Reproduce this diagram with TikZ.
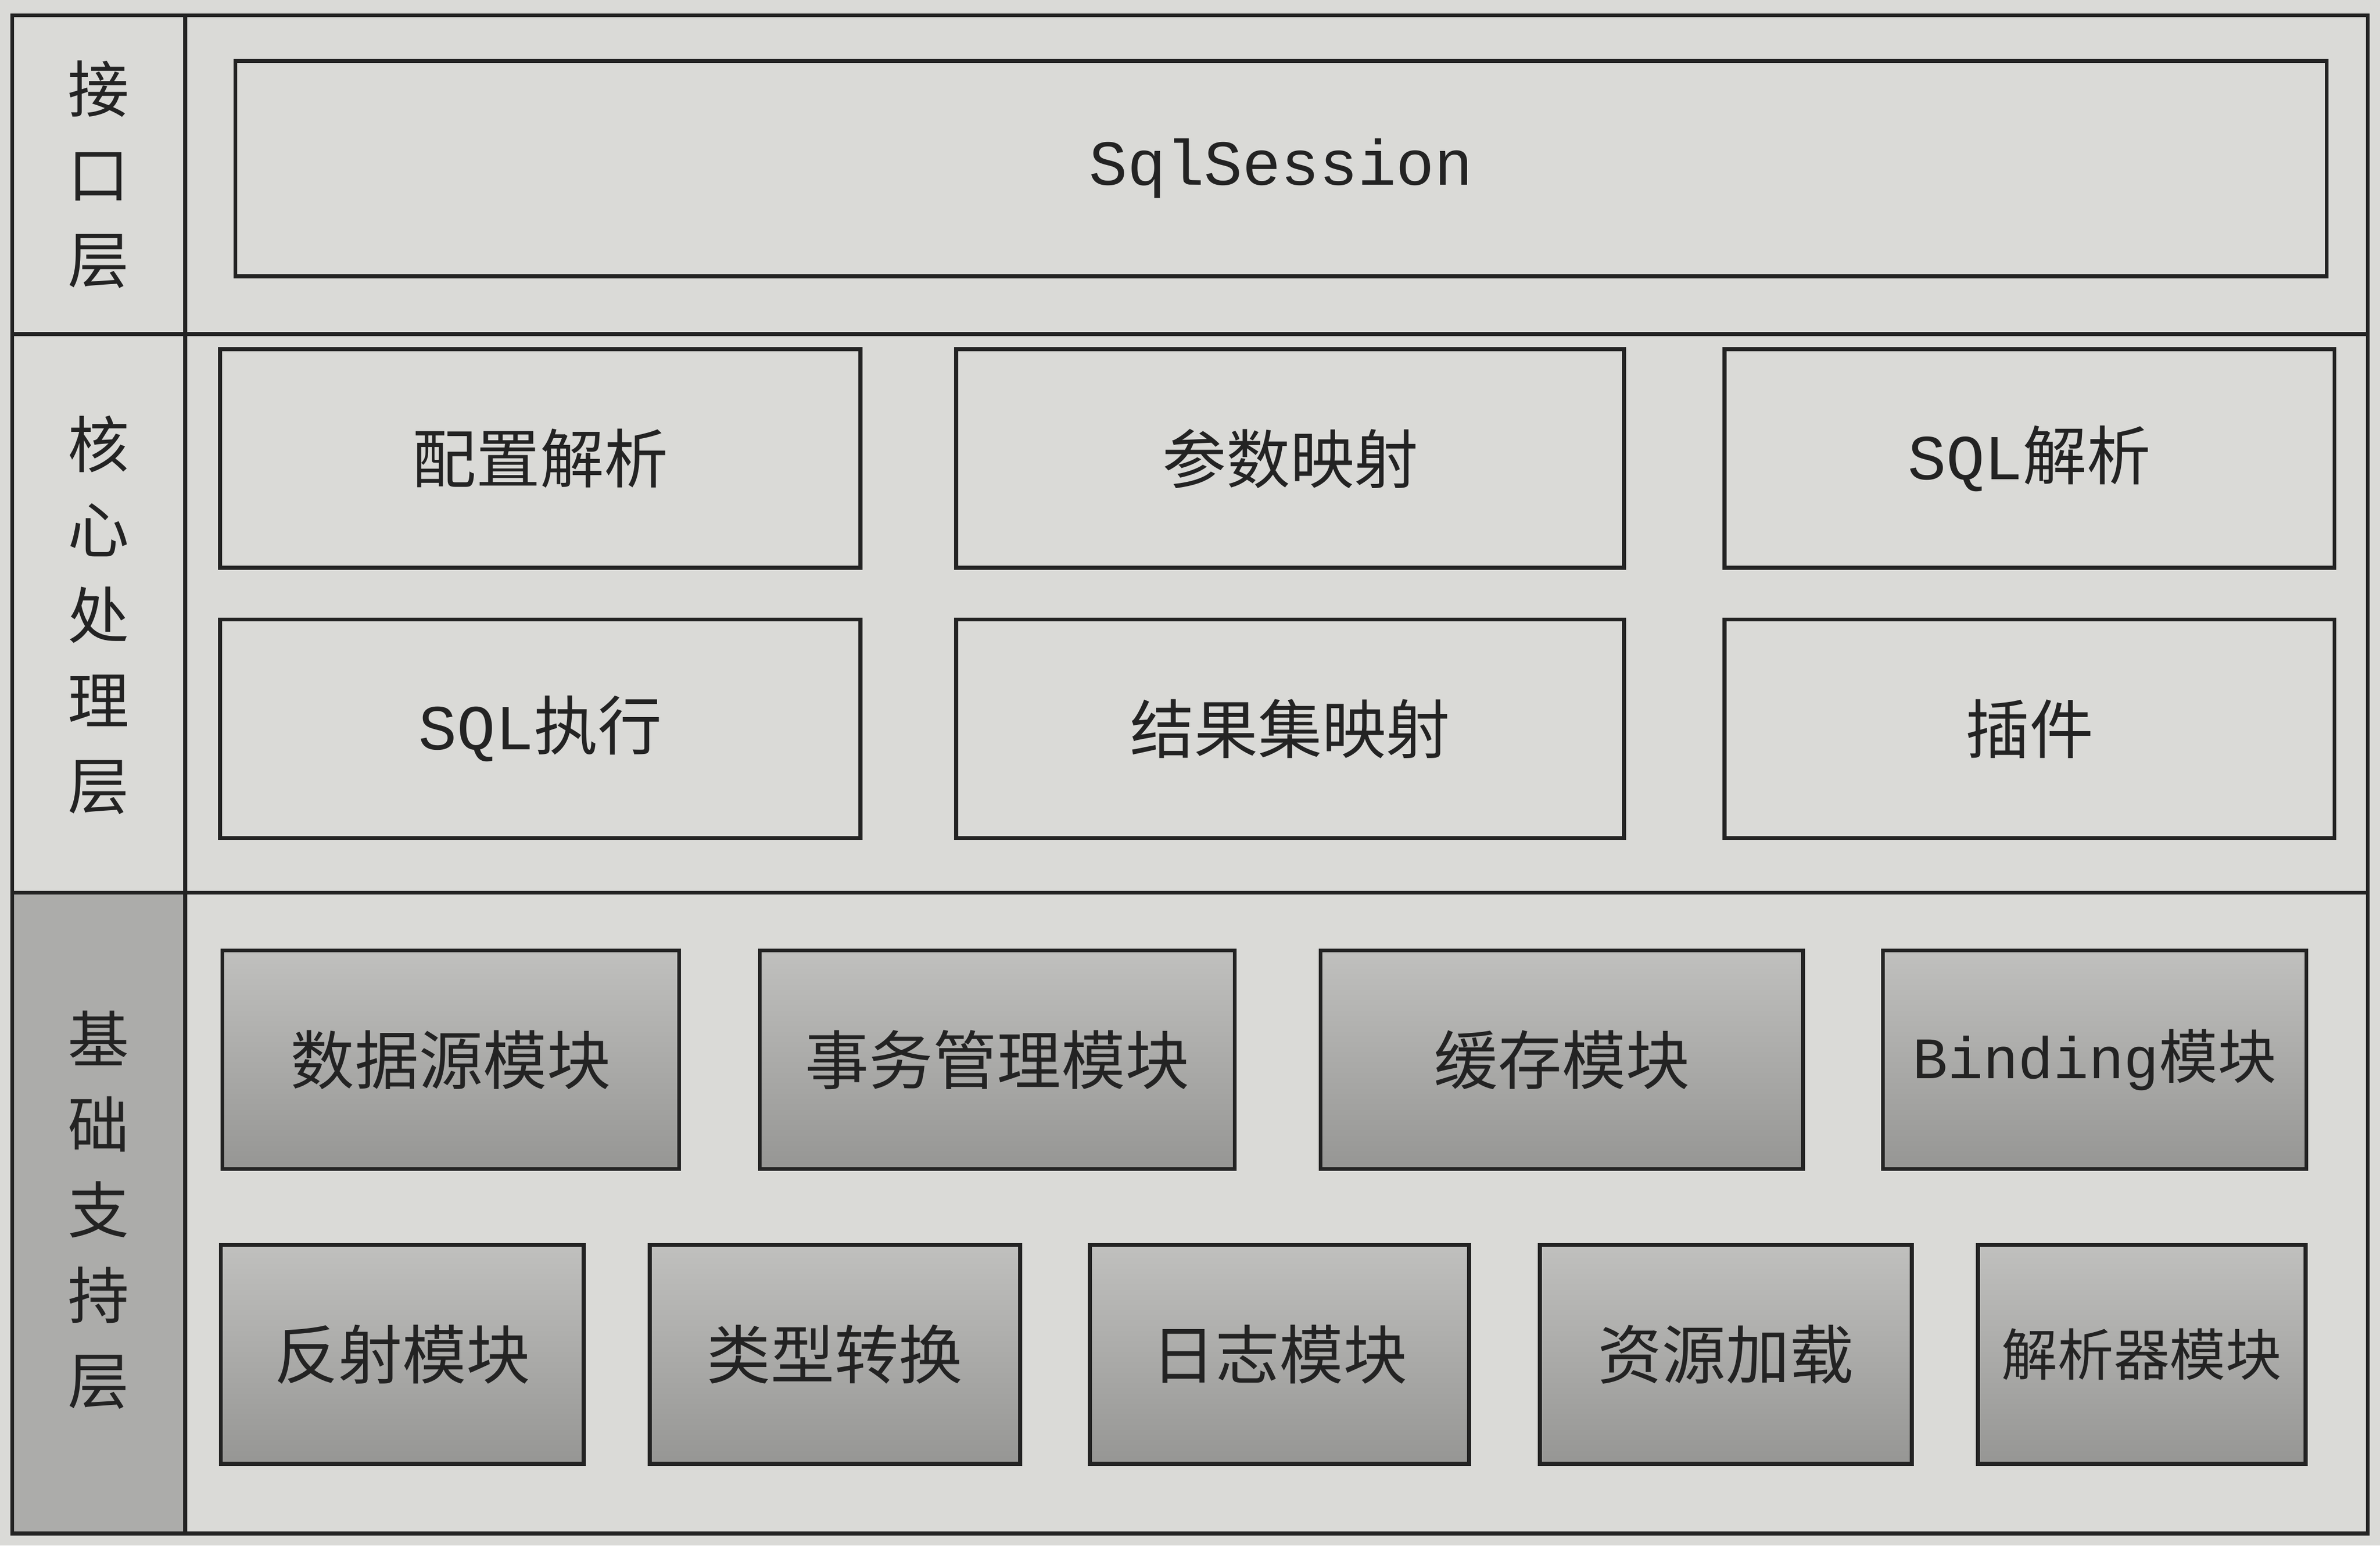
\documentclass[tikz,border=0pt]{standalone}
\usepackage{fontspec}
\newfontfamily\cjkfont{Noto Sans CJK SC}
\newfontfamily\codefont{Liberation Mono}
\definecolor{paper}{RGB}{218,218,215}
\definecolor{ink}{RGB}{35,35,35}
\definecolor{modtop}{RGB}{192,192,190}
\definecolor{modbot}{RGB}{150,150,148}
\definecolor{basecol}{RGB}{172,172,170}
\tikzset{
  layer/.style={align=center,text=ink,font=\cjkfont\fontsize{23}{32}\selectfont},
  corebox/.style={draw=ink,line width=1.5pt,fill=paper,text=ink,minimum height=2.88cm,
    font=\cjkfont\fontsize{24}{28}\selectfont},
  modbox/.style={draw=ink,line width=1.5pt,top color=modtop,bottom color=modbot,text=ink,
    minimum height=2.88cm,font=\cjkfont\fontsize{24}{28}\selectfont}
}
\begin{document}
\begin{tikzpicture}[x=0.02cm,y=-0.02cm]
\useasboundingbox (0,0) rectangle (1568,1018);
\fill[paper] (0,0) rectangle (1568,1018);
\fill[basecol] (8,588) rectangle (122,1010);

% frame of the layers
\draw[ink,line width=1.4pt] (8,10) rectangle (1560,1010);
\draw[ink,line width=1.4pt] (122,10) -- (122,1010);
\draw[ink,line width=1.4pt] (8,220) -- (1560,220);
\draw[ink,line width=1.4pt] (8,588) -- (1560,588);

\node[layer] (jk) at (65,115) {接\\口\\层};
\node[layer] (hx) at (65,405) {核\\心\\处\\理\\层};
\node[layer] (jc) at (65,797) {基\\础\\支\\持\\层};

% interface layer
\node[corebox,minimum width=27.56cm,minimum height=2.84cm] (sqlsession) at (844,111) {\codefont SqlSession};

% core layer
\node[corebox,minimum width=8.44cm] (pzjx) at (356,302) {配置解析};
\node[corebox,minimum width=8.8cm] (csys) at (850,302) {参数映射};
\node[corebox,minimum width=8.04cm] (sqljx) at (1337,302) {{\codefont SQL}解析};
\node[corebox,minimum width=8.44cm] (sqlzx) at (356,480) {{\codefont SQL}执行};
\node[corebox,minimum width=8.8cm] (jgjys) at (850,480) {结果集映射};
\node[corebox,minimum width=8.04cm] (cj) at (1337,480) {插件};

% base layer
\node[modbox,minimum width=6.02cm] (sjy) at (297,698) {数据源模块};
\node[modbox,minimum width=6.26cm] (swgl) at (657,698) {事务管理模块};
\node[modbox,minimum width=6.36cm] (hc) at (1029,698) {缓存模块};
\node[modbox,minimum width=5.58cm] (binding) at (1380,698) {\fontsize{22}{26}\selectfont{\codefont Binding}模块};
\node[modbox,minimum width=4.78cm] (fs) at (265,892) {反射模块};
\node[modbox,minimum width=4.88cm] (lxzh) at (550,892) {类型转换};
\node[modbox,minimum width=5.0cm] (rz) at (843,892) {日志模块};
\node[modbox,minimum width=4.9cm] (zyjz) at (1137,892) {资源加载};
\node[modbox,minimum width=4.32cm] (jxq) at (1411,892) {\fontsize{21}{26}\selectfont 解析器模块};
\end{tikzpicture}
\end{document}
